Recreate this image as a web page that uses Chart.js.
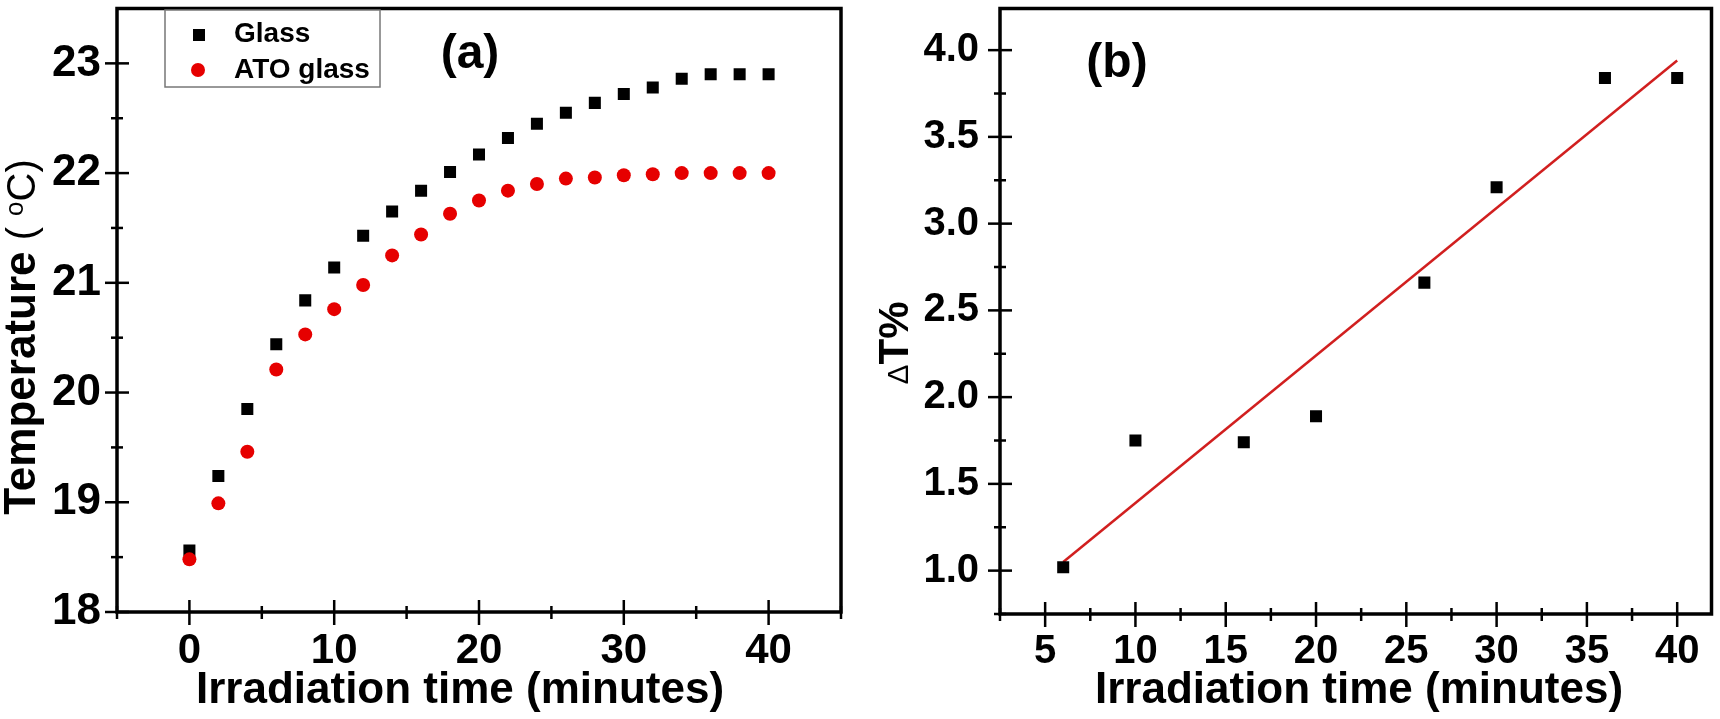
<!DOCTYPE html>
<html><head><meta charset="utf-8">
<script src="https://cdn.jsdelivr.net/npm/chart.js@4.4.1/dist/chart.umd.min.js"></script>
<style>
html,body{margin:0;padding:0;background:#fff;}
#wrap{position:relative;width:1720px;height:719px;overflow:hidden;background:#fff}
canvas{position:absolute;top:0}
</style></head><body>
<div id="wrap">
<canvas id="ca" width="860" height="719" style="left:0"></canvas>
<canvas id="cb" width="860" height="719" style="left:860px"></canvas>
</div>
<script>
// ---- Panel (a) data ----
const timeA = [0,2,4,6,8,10,12,14,16,18,20,22,24,26,28,30,32,34,36,38,40];
const glassTemp = [18.56,19.24,19.85,20.44,20.84,21.14,21.43,21.65,21.84,22.01,22.17,22.32,22.45,22.55,22.64,22.72,22.78,22.86,22.90,22.90,22.90];
const atoTemp   = [18.48,18.99,19.46,20.21,20.53,20.76,20.98,21.25,21.44,21.63,21.75,21.84,21.90,21.95,21.96,21.98,21.99,22.00,22.00,22.00,22.00];
const xTicksA = [0,10,20,30,40];
const xMinorA = [-5,5,15,25,35,45];
const yTicksA = [18,19,20,21,22,23];
const yMinorA = [18.5,19.5,20.5,21.5,22.5];

// ---- Panel (b) data ----
const timeB = [6,10,16,20,26,30,36,40];
const deltaT = [1.02,1.75,1.74,1.89,2.66,3.21,3.84,3.84];
const fitX = [6,40];
const fitY = [1.05,3.94];
const xTicksB = [5,10,15,20,25,30,35,40];
const xMinorB = [2.5,7.5,12.5,17.5,22.5,27.5,32.5,37.5];
const yTicksB = [1.0,1.5,2.0,2.5,3.0,3.5,4.0];
const yMinorB = [0.75,1.25,1.75,2.25,2.75,3.25,3.75];

const FAM = '"Liberation Sans", Arial, sans-serif';

const frameTicks = {
  id: 'frameTicks',
  afterDraw(chart, args, o) {
    const {ctx, chartArea: ca} = chart;
    const x = chart.scales.x, y = chart.scales.y;
    ctx.save();
    ctx.strokeStyle = '#000';
    ctx.lineWidth = 3.5;
    ctx.strokeRect(ca.left, ca.top, ca.right - ca.left, ca.bottom - ca.top);
    ctx.lineWidth = 2.5;
    const ln = (x1, y1, x2, y2) => { ctx.beginPath(); ctx.moveTo(x1, y1); ctx.lineTo(x2, y2); ctx.stroke(); };
    o.xMajor.forEach(v => { const p = x.getPixelForValue(v); ln(p, ca.bottom - 12, p, ca.bottom + 13); });
    o.xMinor.forEach(v => { const p = x.getPixelForValue(v); ln(p, ca.bottom - 6, p, ca.bottom + 7); });
    o.yMajor.forEach(v => { const p = y.getPixelForValue(v); ln(ca.left - 12, p, ca.left + 12, p); });
    o.yMinor.forEach(v => { const p = y.getPixelForValue(v); ln(ca.left - 6, p, ca.left + 6, p); });
    ctx.restore();
  }
};

function drawRich(ctx, parts, bx, cy, rotated) {
  ctx.save();
  ctx.fillStyle = '#000';
  ctx.textBaseline = 'alphabetic';
  ctx.textAlign = 'left';
  let total = 0;
  parts.forEach(p => { ctx.font = p.font; p.w = ctx.measureText(p.t).width; total += p.w; });
  ctx.translate(bx, cy);
  if (rotated) ctx.rotate(-Math.PI / 2);
  let off = -total / 2;
  parts.forEach(p => { ctx.font = p.font; ctx.fillText(p.t, off, -(p.raise || 0)); off += p.w; });
  ctx.restore();
}

const deco = {
  id: 'deco',
  afterDraw(chart, args, o) {
    const ctx = chart.ctx;
    drawRich(ctx, o.xTitle.parts, o.xTitle.x, o.xTitle.y, false);
    drawRich(ctx, o.yTitle.parts, o.yTitle.x, o.yTitle.y, true);
    drawRich(ctx, o.panel.parts, o.panel.x, o.panel.y, false);
    if (o.legend) {
      const L = o.legend;
      ctx.save();
      ctx.fillStyle = '#fff';
      ctx.fillRect(L.x, L.y, L.w, L.h);
      ctx.strokeStyle = '#777';
      ctx.lineWidth = 1.5;
      ctx.strokeRect(L.x, L.y, L.w, L.h);
      const ds = chart.data.datasets;
      L.items.forEach(it => {
        const d = ds[it.ds];
        ctx.fillStyle = d.pointBackgroundColor;
        if (d.pointStyle === 'rect') {
          ctx.fillRect(it.mx - 6, it.my - 6, 12, 12);
        } else {
          ctx.beginPath(); ctx.arc(it.mx, it.my, 7, 0, Math.PI * 2); ctx.fill();
        }
        ctx.fillStyle = '#000';
        ctx.font = 'bold 28px ' + FAM;
        ctx.textAlign = 'left';
        ctx.textBaseline = 'alphabetic';
        ctx.fillText(d.label, it.tx, it.ty);
      });
      ctx.restore();
    }
  }
};

function axis(min, max, ticks, dim, size, pad, fmt) {
  return {
    type: 'linear', min, max,
    afterBuildTicks: s => { s.ticks = ticks.map(v => ({value: v})); },
    afterFit: s => {
      if (s.isHorizontal()) s.height = dim; else s.width = dim;
      s.paddingTop = 0; s.paddingBottom = 0; s.paddingLeft = 0; s.paddingRight = 0;
    },
    grid: {display: false, drawTicks: false},
    border: {display: false},
    title: {display: false},
    ticks: {
      autoSkip: false, maxRotation: 0, minRotation: 0, padding: pad, color: '#000',
      font: {family: FAM, weight: 'bold', size: size, lineHeight: 1.2},
      callback: fmt
    }
  };
}

new Chart(document.getElementById('ca'), {
  type: 'scatter',
  data: {
    datasets: [
      {label: 'Glass', data: timeA.map((t, i) => ({x: t, y: glassTemp[i]})), pointStyle: 'rect', pointRadius: 8.5,
       pointBackgroundColor: '#000', pointBorderWidth: 0, pointBorderColor: '#000', order: 2},
      {label: 'ATO glass', data: timeA.map((t, i) => ({x: t, y: atoTemp[i]})), pointStyle: 'circle', pointRadius: 7,
       pointBackgroundColor: '#e60000', pointBorderWidth: 0, pointBorderColor: '#e60000', order: 1}
    ]
  },
  options: {
    responsive: false, animation: false, devicePixelRatio: 1,
    layout: {padding: {left: 0, right: 19, top: 5, bottom: 0}},
    scales: {
      x: axis(-5, 45, xTicksA, 107, 42, 14, v => String(v)),
      y: axis(18, 23.5, yTicksA, 117, 44, 16, v => String(v))
    },
    plugins: {
      legend: {display: false}, tooltip: {enabled: false},
      frameTicks: {xMajor: xTicksA, xMinor: xMinorA, yMajor: yTicksA, yMinor: yMinorA},
      deco: {
        xTitle: {x: 460, y: 703, parts: [{t: 'Irradiation time (minutes)', font: 'bold 44px ' + FAM}]},
        yTitle: {x: 35, y: 337, parts: [
          {t: 'Temperature', font: 'bold 44px ' + FAM},
          {t: ' ( ', font: '40px ' + FAM},
          {t: 'o', font: '26px ' + FAM, raise: 12},
          {t: 'C)', font: '40px ' + FAM}
        ]},
        panel: {x: 470, y: 68, parts: [{t: '(a)', font: 'bold 48px ' + FAM}]},
        legend: {x: 165, y: 10, w: 215, h: 77, items: [
          {ds: 0, mx: 199, my: 35, tx: 234, ty: 42},
          {ds: 1, mx: 198, my: 70, tx: 234, ty: 78}
        ]}
      }
    }
  },
  plugins: [frameTicks, deco]
});

new Chart(document.getElementById('cb'), {
  type: 'scatter',
  data: {
    datasets: [
      {label: 'ΔT%', data: timeB.map((t, i) => ({x: t, y: deltaT[i]})), pointStyle: 'rect', pointRadius: 8.5,
       pointBackgroundColor: '#000', pointBorderWidth: 0, order: 1},
      {label: 'Linear fit', data: fitX.map((t, i) => ({x: t, y: fitY[i]})), showLine: true, pointRadius: 0,
       borderColor: '#d11f1f', borderWidth: 2.5, order: 2}
    ]
  },
  options: {
    responsive: false, animation: false, devicePixelRatio: 1,
    layout: {padding: {left: 0, right: 3, top: 8, bottom: 0}},
    scales: {
      x: axis(2.5, 41.9, xTicksB, 105, 40, 14, v => String(v)),
      y: axis(0.75, 4.24, yTicksB, 140, 40, 21, v => Number(v).toFixed(1))
    },
    plugins: {
      legend: {display: false}, tooltip: {enabled: false},
      frameTicks: {xMajor: xTicksB, xMinor: xMinorB, yMajor: yTicksB, yMinor: yMinorB},
      deco: {
        xTitle: {x: 499, y: 703, parts: [{t: 'Irradiation time (minutes)', font: 'bold 44px ' + FAM}]},
        yTitle: {x: 48, y: 343, parts: [
          {t: 'Δ', font: '30px ' + FAM},
          {t: 'T%', font: 'bold 42px ' + FAM}
        ]},
        panel: {x: 257, y: 77, parts: [{t: '(b)', font: 'bold 48px ' + FAM}]}
      }
    }
  },
  plugins: [frameTicks, deco]
});
</script>
</body></html>
